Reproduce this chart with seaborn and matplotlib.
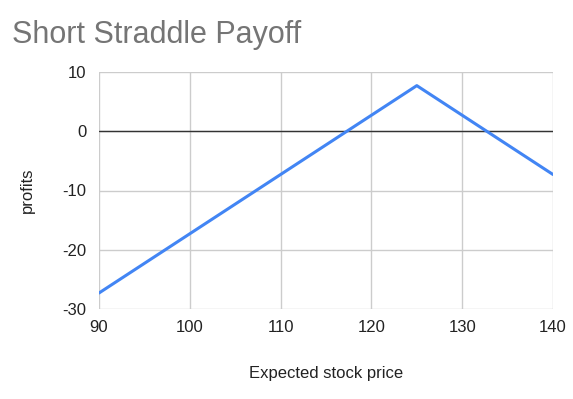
import matplotlib
matplotlib.use("Agg")
import matplotlib.pyplot as plt
import seaborn as sns
import pandas as pd

# Data
stock_price = [90, 125, 140]
profits = [-27.3, 7.7, -7.3]
x_ticks = [90, 100, 110, 120, 130, 140]
y_ticks = [-30, -20, -10, 0, 10]

sns.set_style("white")
plt.rcParams['font.family'] = ['Liberation Sans', 'DejaVu Sans']
plt.rcParams['axes.unicode_minus'] = False

df = pd.DataFrame({"Expected stock price": stock_price, "profits": profits})

fig = plt.figure(figsize=(5.73, 3.99), dpi=100)
ax = fig.add_axes([99/573, 1 - 309/399, (553 - 99)/573, (309 - 72)/399])

for x in x_ticks:
    ax.axvline(x, color="#cccccc", lw=1.0, zorder=0)
for y in y_ticks:
    ax.axhline(y, color="#cccccc", lw=1.0, zorder=0)
ax.axhline(0, color="#333333", lw=1.0, zorder=1)

sns.lineplot(data=df, x="Expected stock price", y="profits", ax=ax,
             color="#4285F4", lw=2.2, zorder=3)

ax.set_xlim(90, 140)
ax.set_ylim(-30, 10)
ax.set_xticks(x_ticks)
ax.set_yticks(y_ticks)
for s in ax.spines.values():
    s.set_visible(False)
ax.tick_params(axis="both", length=0, labelsize=12, colors="#222222")
ax.tick_params(axis="x", pad=8)
ax.tick_params(axis="y", pad=9)

ax.set_xlabel("Expected stock price", fontsize=12, color="#222222", labelpad=22)
ax.set_ylabel("profits", fontsize=12, color="#222222", labelpad=20)

fig.text(12/573, 1 - 35/399, "Short Straddle Payoff", fontsize=22,
         color="#757575", va="center", ha="left")

fig.savefig("out.png", dpi=100)
